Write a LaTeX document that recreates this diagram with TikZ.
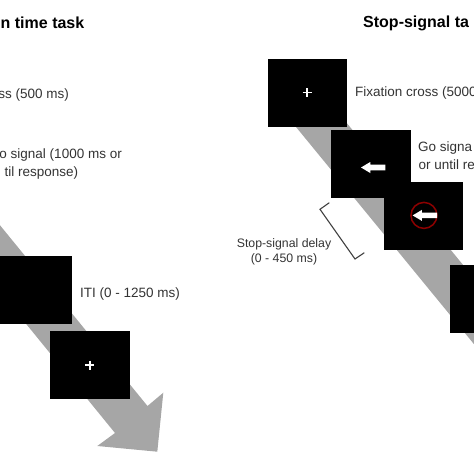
\documentclass[tikz,border=0pt]{standalone}
\usepackage{fontspec}
\setmainfont{Liberation Sans}
\usetikzlibrary{calc}

% white left-pointing arrow, given its centre
\newcommand{\whitearrow}[1]{%
  \fill[white] (#1) ++(-12.2,0) -- ++(9.2,-5.5) -- ++(0,2.7) -- ++(15.2,0) %
    -- ++(0,5.6) -- ++(-15.2,0) -- ++(0,2.7) -- cycle;}

\begin{document}
\begin{tikzpicture}[x=1pt, y=-1pt, %
    screen/.style={fill=black, rectangle, inner sep=0, minimum width=79.3, %
                   minimum height=68, anchor=north west},
    tasktext/.style={text=black!80, inner sep=0, font=\fontsize{13.5}{16}\selectfont},
    headline/.style={text=black, inner sep=0, font=\fontsize{16}{19}\selectfont\bfseries},
    band/.style={fill=black!35},
    fixcross/.style={white, line width=1.8},
    stopring/.style={draw=red!55!black, line width=1.5, circle, minimum size=26, inner sep=0},
    delaybracket/.style={draw=black!75, line width=1.1}]
  \useasboundingbox (0,0) rectangle (474,474);
  \clip (0,0) rectangle (474,474);
%
  % time bands behind the screens
  \fill[band] (-74.8,200) -- (-20.6,200) -- (147.5,406) -- (163.3,392.7) %
    -- (157.3,451.7) -- (97.3,446) -- (115,433) -- cycle;
  \fill[band] (273.9,100) -- (327.9,100) -- (655.7,500) -- (601.7,500) -- cycle;
%
  % reaction time task
  \node[headline, anchor=base east] (TitleRT) at (84.5,28) {n time task};
  \node[tasktext, anchor=base east] (FixTextL) at (69,98) {ss (500 ms)};
  \node[tasktext, anchor=base east] (GoTextL) at (122,158.6) {o signal (1000 ms or};
  \node[tasktext, anchor=base east] (GoTextLb) at (78.3,176) {til response)};
  \node[screen] (ITIBoxL) at (-7.3,256) {};
  \node[tasktext, anchor=base west] (ITITextL) at (80,297.5) {ITI (0 - 1250 ms)};
  \node[screen] (FixBoxL) at (50,330.8) {};
  \draw[fixcross] (FixBoxL.center) ++(-4.5,0) -- ++(9,0) %
    (FixBoxL.center) ++(0,-4.5) -- ++(0,9);
%
  % stop-signal task
  \node[headline, anchor=base west] (TitleSS) at (363,27.7) {Stop-signal ta};
  \node[screen] (FixBoxR) at (267.3,58.3) {};
  \draw[fixcross] (FixBoxR.center) ++(-4.5,0) -- ++(9,0) %
    (FixBoxR.center) ++(0,-4.5) -- ++(0,9);
  \node[tasktext, anchor=base west] (FixTextR) at (355,96.5) {Fixation cross (5000};
%
  \node[screen] (GoBox) at (331,130) {};
  \whitearrow{$(GoBox.center)+(2.4,3.3)$}
  \node[tasktext, anchor=base west] (GoTextR) at (418,151.5) {Go signa};
  \node[tasktext, anchor=base west] (GoTextRb) at (418.5,169.5) {or until re};
%
  \node[screen] (StopBox) at (383.3,181.7) {};
  \node[stopring] (StopRing) at ($(StopBox.center)+(0.8,-0.5)$) {};
  \whitearrow{$(StopBox.center)+(1.7,-0.5)$}
  \node[screen] (ITIBoxR) at (450,265) {};
%
  % stop-signal delay
  \coordinate (DelayTop) at (329.3,202.7);
  \coordinate (DelayBot) at (364.3,252.7);
  \draw[delaybracket] (DelayTop) -- (320,209.3) -- (355,259) -- (DelayBot);
  \node[tasktext, align=center, font=\fontsize{12.3}{15.2}\selectfont] %
       (DelayText) at (284,252) {Stop-signal delay\\(0 - 450 ms)};
\end{tikzpicture}
\end{document}
